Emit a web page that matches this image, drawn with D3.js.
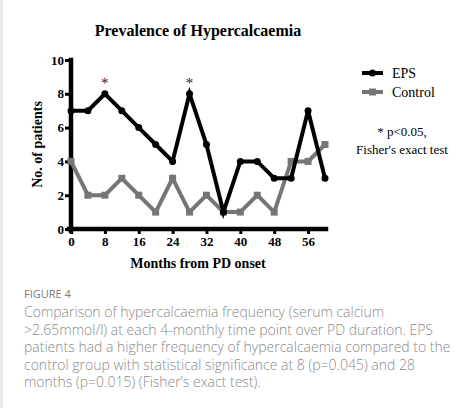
<!DOCTYPE html>
<html>
<head>
<meta charset="utf-8">
<script src="https://cdn.jsdelivr.net/npm/d3@7"></script>
<style>
  html, body { margin: 0; padding: 0; background: #fff; }
  svg { display: block; }
</style>
</head>
<body>
<svg id="chart"></svg>
<script>
// values
const months = [0, 4, 8, 12, 16, 20, 24, 28, 32, 36, 40, 44, 48, 52, 56, 60];
const epsValues = [7, 7, 8, 7, 6, 5, 4, 8, 5, 1, 4, 4, 3, 3, 7, 3];
const controlValues = [4, 2, 2, 3, 2, 1, 3, 1, 2, 1, 1, 2, 1, 4, 4, 5];
const xTicks = [0, 8, 16, 24, 32, 40, 48, 56];
const yTicks = [0, 2, 4, 6, 8, 10];
const significant = [8, 28];
const captionLines = [
  "Comparison of hypercalcaemia frequency (serum calcium",
  ">2.65mmol/l) at each 4-monthly time point over PD duration. EPS",
  "patients had a higher frequency of hypercalcaemia compared to the",
  "control group with statistical significance at 8 (p=0.045) and 28",
  "months (p=0.015) (Fisher\u2019s exact test)."
];

const width = 474, height = 412;
const margin = { top: 60, left: 71, right: 149, bottom: 183 };
const serif = "'Liberation Serif', 'Times New Roman', serif";
const grey = "#767676";

const svg = d3.select("#chart")
  .attr("width", width)
  .attr("height", height);

// faint page border on the left
svg.append("rect")
  .attr("x", 0).attr("y", 0)
  .attr("width", 3).attr("height", 408)
  .attr("fill", "#e8e8e8");

const x = d3.scaleLinear().domain([0, 60]).range([margin.left, width - margin.right]);
const y = d3.scaleLinear().domain([0, 10]).range([height - margin.bottom, margin.top]);

svg.append("text")
  .text("Prevalence of Hypercalcaemia")
  .attr("x", 198).attr("y", 36)
  .attr("text-anchor", "middle")
  .style("font-family", serif)
  .style("font-weight", "bold")
  .style("font-size", "16px");

// axes
const xAxis = svg.append("g")
  .attr("transform", `translate(0,${y(0)})`)
  .call(d3.axisBottom(x).tickValues(xTicks).tickSize(5).tickSizeOuter(0).tickPadding(3));

const yAxis = svg.append("g")
  .attr("transform", `translate(${x(0)},0)`)
  .call(d3.axisLeft(y).tickValues(yTicks).tickSize(6).tickSizeOuter(0).tickPadding(1));

[xAxis, yAxis].forEach(g => {
  g.select(".domain").attr("stroke", "#000").attr("stroke-width", 4.5).attr("stroke-linecap", "square");
  g.selectAll(".tick line").attr("stroke", "#000").attr("stroke-width", 3);
  g.selectAll(".tick text")
    .attr("fill", "#000")
    .style("font-family", serif)
    .style("font-weight", "bold")
    .style("font-size", "13px");
});
xAxis.select(".domain").attr("d", `M${x(0) - 2},0H${x(60) + 1}`);
yAxis.select(".domain").attr("d", `M0,${y(10)}V${y(0) + 2}`);

svg.append("text")
  .text("Months from PD onset")
  .attr("x", x(30)).attr("y", 268)
  .attr("text-anchor", "middle")
  .style("font-family", serif)
  .style("font-weight", "bold")
  .style("font-size", "14px");

svg.append("text")
  .text("No. of patients")
  .attr("transform", `translate(42,${y(5)}) rotate(-90)`)
  .attr("text-anchor", "middle")
  .style("font-family", serif)
  .style("font-weight", "bold")
  .style("font-size", "14px");

const line = d3.line().x(d => x(d[0])).y(d => y(d[1]));
const controlData = months.map((m, i) => [m, controlValues[i]]);
const epsData = months.map((m, i) => [m, epsValues[i]]);

svg.append("path")
  .datum(controlData)
  .attr("d", line)
  .attr("fill", "none")
  .attr("stroke", grey)
  .attr("stroke-width", 4)
  .attr("stroke-linejoin", "miter");

svg.selectAll(".ctrl")
  .data(controlData)
  .enter().append("rect")
  .attr("class", "ctrl")
  .attr("x", d => x(d[0]) - 3.5)
  .attr("y", d => y(d[1]) - 3.5)
  .attr("width", 7).attr("height", 7)
  .attr("fill", grey);

svg.append("path")
  .datum(epsData)
  .attr("d", line)
  .attr("fill", "none")
  .attr("stroke", "#000")
  .attr("stroke-width", 4)
  .attr("stroke-linejoin", "miter");

svg.selectAll(".eps")
  .data(epsData)
  .enter().append("circle")
  .attr("class", "eps")
  .attr("cx", d => x(d[0]))
  .attr("cy", d => y(d[1]))
  .attr("r", 3.5)
  .attr("fill", "#000");

// significance stars
svg.selectAll(".star")
  .data(significant)
  .enter().append("text")
  .attr("class", "star")
  .text("*")
  .attr("x", d => x(d))
  .attr("y", d => y(epsValues[months.indexOf(d)]) - 6)
  .attr("text-anchor", "middle")
  .attr("fill", "#222")
  .style("font-family", serif)
  .style("font-size", "15px");

// legend
const legend = [
  { label: "EPS", color: "#000", shape: "circle", y: 73 },
  { label: "Control", color: grey, shape: "square", y: 92 }
];
const lg = svg.selectAll(".legend")
  .data(legend)
  .enter().append("g")
  .attr("class", "legend")
  .attr("transform", d => `translate(362,${d.y})`);
lg.append("line")
  .attr("x1", 0).attr("x2", 21)
  .attr("stroke", d => d.color)
  .attr("stroke-width", 4);
lg.each(function(d) {
  if (d.shape === "circle") {
    d3.select(this).append("circle").attr("cx", 10.5).attr("r", 3.5).attr("fill", d.color);
  } else {
    d3.select(this).append("rect").attr("x", 7).attr("y", -3.5).attr("width", 7).attr("height", 7).attr("fill", d.color);
  }
});
lg.append("text")
  .text(d => d.label)
  .attr("x", 30).attr("y", 5)
  .style("font-family", serif)
  .style("font-size", "14px");

svg.append("text")
  .text("* p<0.05,")
  .attr("x", 402).attr("y", 136)
  .attr("text-anchor", "middle")
  .style("font-family", serif)
  .style("font-size", "13px");
svg.append("text")
  .text("Fisher's exact test")
  .attr("x", 402).attr("y", 154)
  .attr("text-anchor", "middle")
  .style("font-family", serif)
  .style("font-size", "13px");

// caption
svg.append("text")
  .text("FIGURE 4")
  .attr("x", 24).attr("y", 298)
  .attr("fill", "#7a7a7a")
  .style("font-family", "'Open Sans', sans-serif")
  .style("font-size", "11px");

svg.append("g")
  .selectAll("text")
  .data(captionLines)
  .enter().append("text")
  .text(d => d)
  .attr("x", 24)
  .attr("y", (d, i) => 317 + i * 17.5)
  .attr("fill", "#8a8a8a")
  .style("font-family", "'Open Sans', sans-serif")
  .style("font-weight", 300)
  .style("font-size", "14px");
</script>
</body>
</html>
